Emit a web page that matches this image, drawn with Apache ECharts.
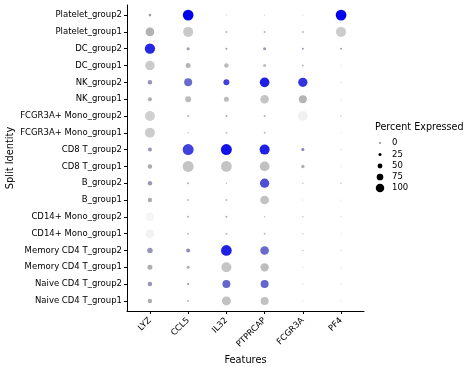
<!DOCTYPE html>
<html>
<head>
<meta charset="utf-8">
<script src="https://cdn.jsdelivr.net/npm/echarts@6/dist/echarts.min.js"></script>
<style>html,body{margin:0;padding:0;background:#fff}#c{width:474px;height:368px}</style>
</head>
<body>
<div id="c"></div>
<script>
// Features (x axis)
const features = ['LYZ', 'CCL5', 'IL32', 'PTPRCAP', 'FCGR3A', 'PF4'];
// Identities, bottom -> top
const identities = [
  'Naive CD4 T_group1', 'Naive CD4 T_group2',
  'Memory CD4 T_group1', 'Memory CD4 T_group2',
  'CD14+ Mono_group1', 'CD14+ Mono_group2',
  'B_group1', 'B_group2',
  'CD8 T_group1', 'CD8 T_group2',
  'FCGR3A+ Mono_group1', 'FCGR3A+ Mono_group2',
  'NK_group1', 'NK_group2',
  'DC_group1', 'DC_group2',
  'Platelet_group1', 'Platelet_group2'
];
// Percent expressed per feature (ordered as identities)
const pctLYZ     = [15, 15, 19, 23, 55, 55, 15, 15, 15, 12, 76, 76, 12, 15, 68, 80, 57, 5.5];
const pctCCL5    = [3, 3, 7, 12, 3, 3, 3, 3, 91, 91, 1.7, 3, 27, 48, 19, 7, 76, 87];
const pctIL32    = [61, 48, 76, 87, 3, 3, 3, 1.7, 87, 91, 3, 3, 19, 27, 15, 3, 3, 0.8];
const pctPTPRCAP = [48, 48, 52, 57, 3, 1.7, 57, 65, 71, 76, 3, 3, 55, 71, 7, 7, 3, 0.8];
const pctFCGR3A  = [0.8, 0.8, 0.8, 1.7, 1.7, 1.7, 0.8, 1.7, 9, 7, 0, 76, 48, 65, 3, 3, 3, 0.8];
const pctPF4     = [0.8, 0.8, 0.8, 0.8, 0.8, 0.8, 0.8, 1.7, 0.8, 0.8, 0.8, 1.7, 0.8, 0.8, 0.8, 3, 76, 87];
// Scaled average expression (0..1) per feature (ordered as identities)
const expLYZ     = [0.85, 0.42, 0.85, 0.42, 0.02, 0.0, 0.85, 0.4, 0.85, 0.42, 0.3, 0.25, 0.85, 0.42, 0.32, 0.85, 0.75, 0.4];
const expCCL5    = [0.7, 0.45, 0.8, 0.45, 0.6, 0.35, 0.6, 0.35, 0.45, 0.75, 0.6, 0.35, 0.6, 0.6, 0.7, 0.4, 0.35, 1.0];
const expIL32    = [0.5, 0.62, 0.45, 0.88, 0.6, 0.35, 0.6, 0.3, 0.45, 0.93, 0.6, 0.35, 0.6, 0.75, 0.6, 0.4, 0.7, 0.3];
const expPTPRCAP = [0.5, 0.62, 0.55, 0.6, 0.6, 0.3, 0.5, 0.7, 0.5, 0.88, 0.6, 0.35, 0.45, 0.88, 0.6, 0.4, 0.7, 0.3];
const expFCGR3A  = [0.3, 0.3, 0.3, 0.3, 0.5, 0.3, 0.3, 0.3, 0.8, 0.5, 0.0, 0.03, 0.72, 0.8, 0.6, 0.4, 0.7, 0.3];
const expPF4     = [0.3, 0.3, 0.3, 0.3, 0.3, 0.3, 0.3, 0.3, 0.3, 0.3, 0.3, 0.3, 0.3, 0.3, 0.3, 0.4, 0.3, 1.0];
// Legend breaks
const legendBreaks = [0, 25, 50, 75, 100];

const pctAll = [pctLYZ, pctCCL5, pctIL32, pctPTPRCAP, pctFCGR3A, pctPF4];
const expAll = [expLYZ, expCCL5, expIL32, expPTPRCAP, expFCGR3A, expPF4];

const ramp1 = [[0, [245,245,245]], [0.3, [204,204,204]], [0.6, [187,187,187]], [1, [164,164,164]]];
const ramp2 = [[0, [245,245,245]], [0.25, [208,208,208]], [0.4, [154,154,180]], [0.6, [106,106,204]], [0.8, [51,51,224]], [1, [0,0,238]]];
function rampColor(stops, v) {
  v = Math.max(0, Math.min(1, v));
  for (let i = 1; i < stops.length; i++) {
    if (v <= stops[i][0]) {
      const a = stops[i-1], b = stops[i];
      const t = (v - a[0]) / (b[0] - a[0]);
      const c = a[1].map((x, k) => Math.round(x + (b[1][k] - x) * t));
      return 'rgb(' + c.join(',') + ')';
    }
  }
  const l = stops[stops.length-1][1];
  return 'rgb(' + l.join(',') + ')';
}

const data = [];
features.forEach((f, xi) => {
  identities.forEach((id, yi) => {
    data.push([xi, yi, pctAll[xi][yi], expAll[xi][yi], id.endsWith('group2') ? 2 : 1]);
  });
});

const FONT = 'DejaVu Sans';
const chart = echarts.init(document.getElementById('c'), null, {renderer: 'canvas'});
const idx6 = features.map((_, i) => i);
const idx18 = identities.map((_, i) => i);

const legendGraphics = [{
  type: 'text', left: 375, top: 122,
  style: {text: 'Percent Expressed', font: '9.6px "DejaVu Sans"', fill: '#000'}
}];
const legendY = [143, 154.5, 166, 177, 188];
legendBreaks.forEach((b, i) => {
  const d = 1.3 + b * 0.072;
  legendGraphics.push({type: 'circle', shape: {cx: 380, cy: legendY[i], r: d / 2}, style: {fill: '#000'}});
  legendGraphics.push({type: 'text', x: 392, y: legendY[i], style: {text: String(b), font: '8.5px "DejaVu Sans"', fill: '#000', verticalAlign: 'middle'}});
});

chart.setOption({
  animation: false,
  backgroundColor: '#fff',
  grid: {left: 127, right: 110, top: 5, bottom: 57, containLabel: false, outerBoundsMode: 'none'},
  xAxis: {
    type: 'value', min: -0.6, max: 5.6,
    splitLine: {show: false},
    axisLine: {show: true, onZero: false, lineStyle: {color: '#000', width: 1}},
    axisTick: {show: true, length: 3, lineStyle: {color: '#000'}, customValues: idx6},
    axisLabel: {
      customValues: idx6, rotate: 45, margin: 8,
      formatter: v => features[Math.round(v)] || '',
      fontFamily: FONT, fontSize: 8.5, color: '#000'
    },
    name: 'Features', nameLocation: 'middle', nameGap: 38,
    nameTextStyle: {fontFamily: FONT, fontSize: 9.8, color: '#000'}
  },
  yAxis: {
    type: 'value', min: -0.6, max: 17.6,
    splitLine: {show: false},
    axisLine: {show: true, onZero: false, lineStyle: {color: '#000', width: 1}},
    axisTick: {show: true, length: 3, lineStyle: {color: '#000'}, customValues: idx18},
    axisLabel: {
      customValues: idx18, margin: 5,
      formatter: v => identities[Math.round(v)] || '',
      fontFamily: FONT, fontSize: 8.5, color: '#000'
    },
    name: 'Split Identity', nameLocation: 'middle', nameGap: 112,
    nameTextStyle: {fontFamily: FONT, fontSize: 9.8, color: '#000'}
  },
  series: [{
    type: 'scatter',
    data: data,
    symbol: 'circle',
    symbolSize: v => 1.15 * Math.sqrt(v[2]),
    itemStyle: {
      opacity: 1,
      color: p => rampColor(p.data[4] === 2 ? ramp2 : ramp1, p.data[3])
    }
  }],
  graphic: legendGraphics
});
</script>
</body>
</html>
